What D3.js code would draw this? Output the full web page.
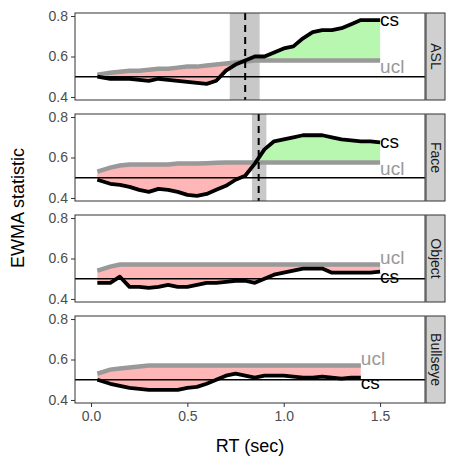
<!DOCTYPE html>
<html><head><meta charset="utf-8">
<script src="https://cdn.jsdelivr.net/npm/d3@7"></script>
<style>body{margin:0;background:#fff}svg{font-family:"Liberation Sans",Arial,sans-serif}</style>
</head><body><svg id="c" width="474" height="474"></svg>
<script>
// ---- data --------------------------------------------------------------
var panels = ['ASL', 'Face', 'Object', 'Bullseye'];
var aslX   = [0.033,0.1,0.15,0.2,0.25,0.3,0.35,0.4,0.45,0.5,0.55,0.6,0.65,0.7,0.75,0.8,0.85,0.9,0.95,1.0,1.05,1.1,1.15,1.2,1.25,1.3,1.35,1.4,1.45,1.5];
var aslCs  = [0.50,0.49,0.49,0.49,0.485,0.48,0.49,0.485,0.48,0.475,0.47,0.465,0.48,0.53,0.56,0.58,0.60,0.60,0.62,0.64,0.65,0.69,0.72,0.73,0.73,0.74,0.76,0.78,0.78,0.78];
var aslUcl = [0.51,0.52,0.525,0.53,0.53,0.535,0.54,0.54,0.545,0.55,0.55,0.555,0.56,0.565,0.57,0.575,0.58,0.58,0.58,0.58,0.58,0.58,0.58,0.58,0.58,0.58,0.58,0.58,0.58,0.58];
var faceX   = aslX;
var faceCs  = [0.49,0.47,0.465,0.455,0.44,0.43,0.445,0.44,0.43,0.415,0.41,0.42,0.44,0.46,0.49,0.51,0.57,0.64,0.68,0.69,0.70,0.71,0.71,0.71,0.70,0.69,0.685,0.68,0.68,0.675];
var faceUcl = [0.53,0.55,0.56,0.565,0.565,0.565,0.565,0.565,0.57,0.57,0.57,0.572,0.574,0.575,0.575,0.575,0.575,0.575,0.575,0.575,0.575,0.575,0.575,0.575,0.575,0.575,0.575,0.575,0.575,0.575];
var objX   = aslX;
var objCs  = [0.48,0.48,0.51,0.46,0.46,0.455,0.46,0.47,0.46,0.46,0.47,0.48,0.48,0.485,0.49,0.49,0.48,0.50,0.52,0.53,0.54,0.55,0.55,0.55,0.53,0.53,0.53,0.53,0.53,0.535];
var objUcl = [0.54,0.56,0.57,0.57,0.57,0.57,0.57,0.57,0.57,0.57,0.57,0.57,0.57,0.57,0.57,0.57,0.57,0.57,0.57,0.57,0.57,0.57,0.57,0.57,0.57,0.57,0.57,0.57,0.57,0.57];
var bullX   = aslX.slice(0, 28);
var bullCs  = [0.50,0.48,0.47,0.46,0.455,0.45,0.45,0.45,0.45,0.46,0.465,0.48,0.50,0.52,0.53,0.52,0.51,0.52,0.52,0.52,0.515,0.51,0.51,0.515,0.51,0.505,0.51,0.51];
var bullUcl = [0.53,0.55,0.555,0.56,0.565,0.57,0.57,0.57,0.57,0.57,0.57,0.57,0.57,0.57,0.57,0.57,0.57,0.57,0.57,0.57,0.57,0.57,0.57,0.57,0.57,0.57,0.57,0.57];
var bandLo = [0.72, 0.835, null, null];
var bandHi = [0.875, 0.91, null, null];
var vline  = [0.80, 0.87, null, null];
var xTicks = [0, 0.5, 1.0, 1.5];
var yTicks = [0.4, 0.6, 0.8];
var series = [[aslX,aslCs,aslUcl],[faceX,faceCs,faceUcl],[objX,objCs,objUcl],[bullX,bullCs,bullUcl]];

// ---- layout ------------------------------------------------------------
var svg = d3.select('#c');
var L = 75, R = 425, stripW = 19, pH = 87, gap = 14, top0 = 13;
var x = d3.scaleLinear().domain([-0.083, 1.733]).range([L, R]);
var FONT = '"Liberation Sans",Arial,sans-serif';

panels.forEach(function (name, i) {
  var t = top0 + i * (pH + gap);
  var y = d3.scaleLinear().domain([0.385, 0.815]).range([t + pH, t]);
  var s = series[i], X = s[0], cs = s[1], ucl = s[2];
  var pts = X.map(function (v, j) { return {x: v, cs: cs[j], u: ucl[j]}; });
  var g = svg.append('g');
  var clipId = 'clip' + i;
  svg.append('clipPath').attr('id', clipId).append('rect').attr('x', L).attr('y', t).attr('width', R - L).attr('height', pH);
  var pg = g.append('g').attr('clip-path', 'url(#' + clipId + ')');
  if (bandLo[i] != null) {
    pg.append('rect').attr('x', x(bandLo[i])).attr('y', t).attr('width', x(bandHi[i]) - x(bandLo[i])).attr('height', pH).attr('fill', '#c8c8c8');
  }
  pg.append('path').datum(pts).attr('fill', '#ffb6b6')
    .attr('d', d3.area().x(function (d) { return x(d.x); }).y0(function (d) { return y(d.u); }).y1(function (d) { return y(Math.min(d.cs, d.u)); }));
  pg.append('path').datum(pts).attr('fill', '#b8f7b0')
    .attr('d', d3.area().x(function (d) { return x(d.x); }).y0(function (d) { return y(d.u); }).y1(function (d) { return y(Math.max(d.cs, d.u)); }));
  pg.append('line').attr('x1', L).attr('x2', R).attr('y1', y(0.5)).attr('y2', y(0.5)).attr('stroke', '#000').attr('stroke-width', 1.5);
  pg.append('path').datum(pts).attr('fill', 'none').attr('stroke', '#999').attr('stroke-width', 4.5)
    .attr('d', d3.line().x(function (d) { return x(d.x); }).y(function (d) { return y(d.u); }));
  pg.append('path').datum(pts).attr('fill', 'none').attr('stroke', '#000').attr('stroke-width', 3.8).attr('stroke-linejoin', 'round')
    .attr('d', d3.line().x(function (d) { return x(d.x); }).y(function (d) { return y(d.cs); }));
  if (vline[i] != null) {
    pg.append('line').attr('x1', x(vline[i])).attr('x2', x(vline[i])).attr('y1', t).attr('y2', t + pH)
      .attr('stroke', '#000').attr('stroke-width', 2).attr('stroke-dasharray', '7 5');
  }
  // labels at line ends
  var last = pts[pts.length - 1];
  var csAbove = last.cs > last.u;
  g.append('text').attr('x', x(last.x)).attr('y', y(last.cs) + (csAbove ? 6 : 11)).attr('font-size', 19).attr('fill', '#000').text('cs');
  g.append('text').attr('x', x(last.x)).attr('y', y(last.u) + (csAbove ? 12 : -1)).attr('font-size', 19).attr('fill', '#999').text('ucl');
  g.append('rect').attr('x', L).attr('y', t).attr('width', R - L).attr('height', pH).attr('fill', 'none').attr('stroke', '#333').attr('stroke-width', 1);
  // strip
  g.append('rect').attr('x', R + 1).attr('y', t).attr('width', stripW).attr('height', pH).attr('fill', '#d0d0d0').attr('stroke', '#333').attr('stroke-width', 1);
  g.append('text').attr('transform', 'translate(' + (R + 1 + stripW / 2) + ',' + (t + pH / 2) + ') rotate(90)')
    .attr('text-anchor', 'middle').attr('dy', '0.35em').attr('font-size', 14).attr('fill', '#1a1a1a').text(name);
  // y axis
  var ya = g.append('g').attr('transform', 'translate(' + L + ',0)')
    .call(d3.axisLeft(y).tickValues(yTicks).tickSize(4).tickPadding(3).tickFormat(d3.format('.1f')));
  ya.select('.domain').remove();
  ya.selectAll('line').attr('stroke', '#333');
  ya.selectAll('text').attr('font-size', 14).attr('fill', '#4d4d4d').style('font-family', FONT);
});

var bottom = top0 + 4 * pH + 3 * gap;
var xa = svg.append('g').attr('transform', 'translate(0,' + bottom + ')')
  .call(d3.axisBottom(x).tickValues(xTicks).tickSize(4).tickPadding(4).tickFormat(d3.format('.1f')));
xa.select('.domain').remove();
xa.selectAll('line').attr('stroke', '#333');
xa.selectAll('text').attr('font-size', 14).attr('fill', '#4d4d4d').style('font-family', FONT);

svg.append('text').attr('x', (L + R) / 2).attr('y', 452).attr('text-anchor', 'middle').attr('font-size', 18).text('RT (sec)');
svg.append('text').attr('transform', 'translate(24,' + (top0 + (bottom - top0) / 2) + ') rotate(-90)')
  .attr('text-anchor', 'middle').attr('font-size', 18).text('EWMA statistic');
</script></body></html>
